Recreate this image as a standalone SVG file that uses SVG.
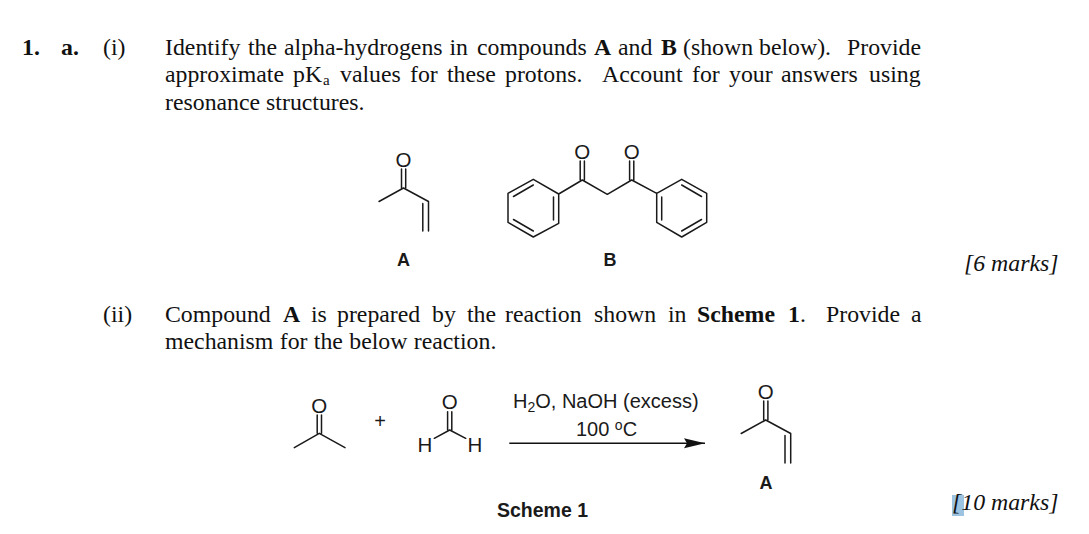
<svg xmlns="http://www.w3.org/2000/svg" width="1089" height="534" viewBox="0 0 1089 534">
<style>
.t{font-family:"Liberation Serif","Times New Roman",serif;font-size:23.8px;fill:#111}
.b{font-weight:bold}
.i{font-style:italic}
.s{font-family:"Liberation Sans",Arial,sans-serif;font-size:20px;fill:#1a1a1a}
.sb{font-family:"Liberation Sans",Arial,sans-serif;font-size:18px;font-weight:bold;fill:#1a1a1a}
.atom{font-family:"Liberation Sans",Arial,sans-serif;font-size:20.5px;fill:#1a1a1a;text-anchor:middle}
.bond{fill:none;stroke:#1a1a1a;stroke-width:1.5;stroke-linecap:round;stroke-linejoin:round}
</style>
<defs>
<marker id="ah" markerUnits="userSpaceOnUse" markerWidth="22" markerHeight="12" refX="21" refY="5.5" orient="auto"><path d="M0 0.5L21 5.5L0 10.5L3 5.5Z" fill="#111"/></marker>
<g id="enone">
<path class="bond" d="M-24.5 13.5L0 0L25 13.5V43M19.3 15.5V43M-2 0V-19M2.2 0V-19"/>
<text class="atom" x="0" y="-21">O</text>
</g>
</defs>
<rect x="952" y="495" width="12" height="21" fill="#9cc3e0"/>
<g id="text">
<text class="t b" x="22" y="55">1.</text>
<text class="t b" x="61" y="55">a.</text>
<text class="t" x="103" y="55">(i)</text>
<text class="t" y="55"><tspan x="165">Identify</tspan><tspan x="248">the</tspan><tspan x="284">alpha-hydrogens</tspan><tspan x="449.5">in</tspan><tspan x="477">compounds</tspan><tspan x="594" class="b">A</tspan><tspan x="618">and</tspan><tspan x="661" class="b">B</tspan><tspan x="683">(shown below).</tspan><tspan x="847">Provide</tspan></text>
<text class="t" y="82"><tspan x="165">approximate</tspan><tspan x="293">pK</tspan><tspan x="323" font-size="15" dy="3">a</tspan><tspan x="340" dy="-3">values</tspan><tspan x="410">for</tspan><tspan x="447">these</tspan><tspan x="505">protons.</tspan><tspan x="602">Account</tspan><tspan x="692">for</tspan><tspan x="729">your</tspan><tspan x="781">answers</tspan><tspan x="869">using</tspan></text>
<text class="t" x="165" y="110">resonance structures.</text>
<text class="t i" x="964" y="271">[6 marks]</text>
<text class="t" x="103" y="322">(ii)</text>
<text class="t" y="322"><tspan x="165">Compound</tspan><tspan x="283" class="b">A</tspan><tspan x="311">is</tspan><tspan x="337">prepared</tspan><tspan x="432">by</tspan><tspan x="467">the</tspan><tspan x="505">reaction</tspan><tspan x="594">shown</tspan><tspan x="668">in</tspan><tspan x="697" class="b">Scheme</tspan><tspan x="788" class="b">1</tspan><tspan>.</tspan><tspan x="826">Provide</tspan><tspan x="911">a</tspan></text>
<text class="t" x="165" y="349" word-spacing="0.4">mechanism for the below reaction.</text>
<text class="t i" x="952" y="510">[10 marks]</text>
</g>
<g id="compound-A-top">
<use href="#enone" x="403.5" y="188"/>
<text class="sb" x="403.5" y="266" text-anchor="middle">A</text>
</g>
<g id="compound-B">
<path class="bond" d="M533.3 179.3L558.7 194V223.3L533.3 237L508 222.3V193.3ZM513.5 196.5L533.3 185M553.5 197V220M513.5 219.5L533.3 231M558.7 194L582.3 180L607.3 194.3L631.7 180L656.7 193.3L681.7 179.3L706.7 193.3V222.3L681.7 237L656.7 222.3V193.3M661.7 197V220M681.7 185L701.5 196.5M681.7 231L701.5 219.5M580.2 180V161M584.4 180V161M629.6 180V161M633.8 180V161"/>
<text class="atom" x="582.3" y="158.5">O</text>
<text class="atom" x="631.7" y="158.5">O</text>
<text class="sb" x="610" y="266" text-anchor="middle">B</text>
</g>
<g id="acetone">
<path class="bond" d="M294.3 447.7L319.3 433.3L345 447.7M317.2 433.3V415M321.5 433.3V415"/>
<text class="atom" x="319.3" y="412.5">O</text>
</g>
<text class="s" id="plus" x="380" y="427.5" font-size="18" text-anchor="middle">+</text>
<g id="formaldehyde">
<path class="bond" d="M434.3 438.3L449.7 430L465.7 438.3M447.6 430V411.7M451.8 430V411.7"/>
<text class="atom" x="449.7" y="409">O</text>
<text class="atom" x="425" y="452">H</text>
<text class="atom" x="475" y="452">H</text>
</g>
<g id="connectors">
<path d="M509.3 443.3H705" stroke="#111" stroke-width="1.5" fill="none" marker-end="url(#ah)"/>
</g>
<g id="conditions">
<text class="s" x="513" y="408">H<tspan font-size="14" dy="4">2</tspan><tspan dy="-4">O, NaOH (excess)</tspan></text>
<text class="s" x="606.5" y="436" text-anchor="middle">100 <tspan font-size="14" dy="-6">o</tspan><tspan dy="6">C</tspan></text>
</g>
<g id="compound-A-product">
<use href="#enone" x="765.7" y="420"/>
<text class="sb" x="766" y="489" text-anchor="middle">A</text>
</g>
<text class="sb" id="scheme" x="497" y="517" style="font-size:19.5px">Scheme 1</text>
</svg>
